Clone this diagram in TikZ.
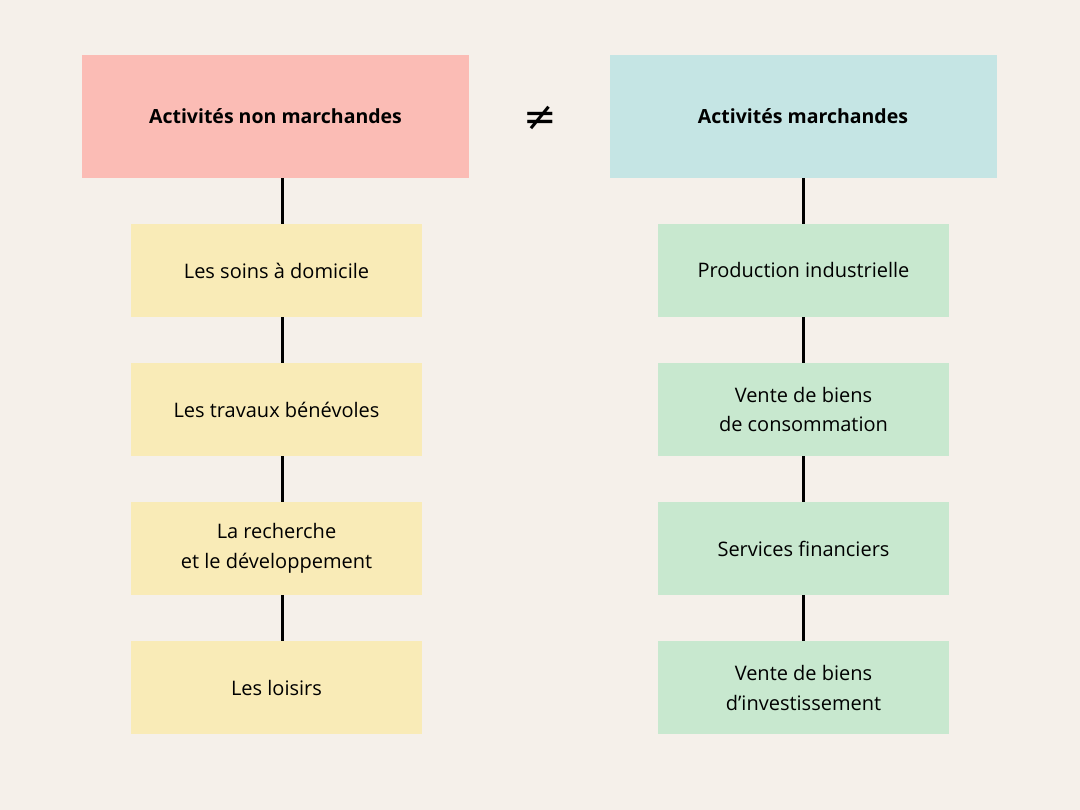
\documentclass[tikz,border=0pt]{standalone}
\usepackage{fontspec}
\setmainfont{Open Sans}
\newfontfamily\symf{DejaVu Sans}
\definecolor{bg}{HTML}{F5F0EA}
\definecolor{pk}{HTML}{FBBCB5}
\definecolor{bl}{HTML}{C5E5E4}
\definecolor{ye}{HTML}{F9EBB7}
\definecolor{gr}{HTML}{C8E8CF}
\begin{document}
\begin{tikzpicture}[x=1pt,y=-1pt,
 head/.style={draw=none,minimum width=387pt,minimum height=123pt,font=\fontsize{19.5}{22}\selectfont\bfseries,inner sep=0},
 item/.style={draw=none,minimum width=291pt,minimum height=93pt,font=\fontsize{20}{30}\selectfont,align=center,inner sep=0},
 link/.style={line width=3pt,black}]
\fill[bg] (0,0) rectangle (1080,810);
\node[head,fill=pk] (L) at (275.5,116.5) {Activités non marchandes};
\node[head,fill=bl] (R) at (803,116.5) {Activités marchandes};
\node[font=\symf\fontsize{40}{40}\selectfont] (ne) at (540,118) {≠};
\node[item,fill=ye] (l1) at (276.5,270.5) {Les soins à domicile};
\node[item,fill=ye] (l2) at (276.5,409.5) {Les travaux bénévoles};
\node[item,fill=ye] (l3) at (276.5,548.5) {La recherche\\et le développement};
\node[item,fill=ye] (l4) at (276.5,687.5) {Les loisirs};
\node[item,fill=gr] (r1) at (803.5,270.5) {Production industrielle};
\node[item,fill=gr] (r2) at (803.5,409.5) {Vente de biens\\de consommation};
\node[item,fill=gr] (r3) at (803.5,548.5) {Services financiers};
\node[item,fill=gr] (r4) at (803.5,687.5) {Vente de biens\\d\symbol{39}investissement};
\draw[link] ([xshift=7pt]L.south) -- ([xshift=6pt]l1.north);
\foreach \a/\b in {l1/l2,l2/l3,l3/l4}{\draw[link] ([xshift=6pt]\a.south) -- ([xshift=6pt]\b.north);}
\draw[link] (r1.north |- R.south) -- (r1.north);
\foreach \a/\b in {r1/r2,r2/r3,r3/r4}{\draw[link] (\a.south) -- (\b.north);}
\end{tikzpicture}
\end{document}
